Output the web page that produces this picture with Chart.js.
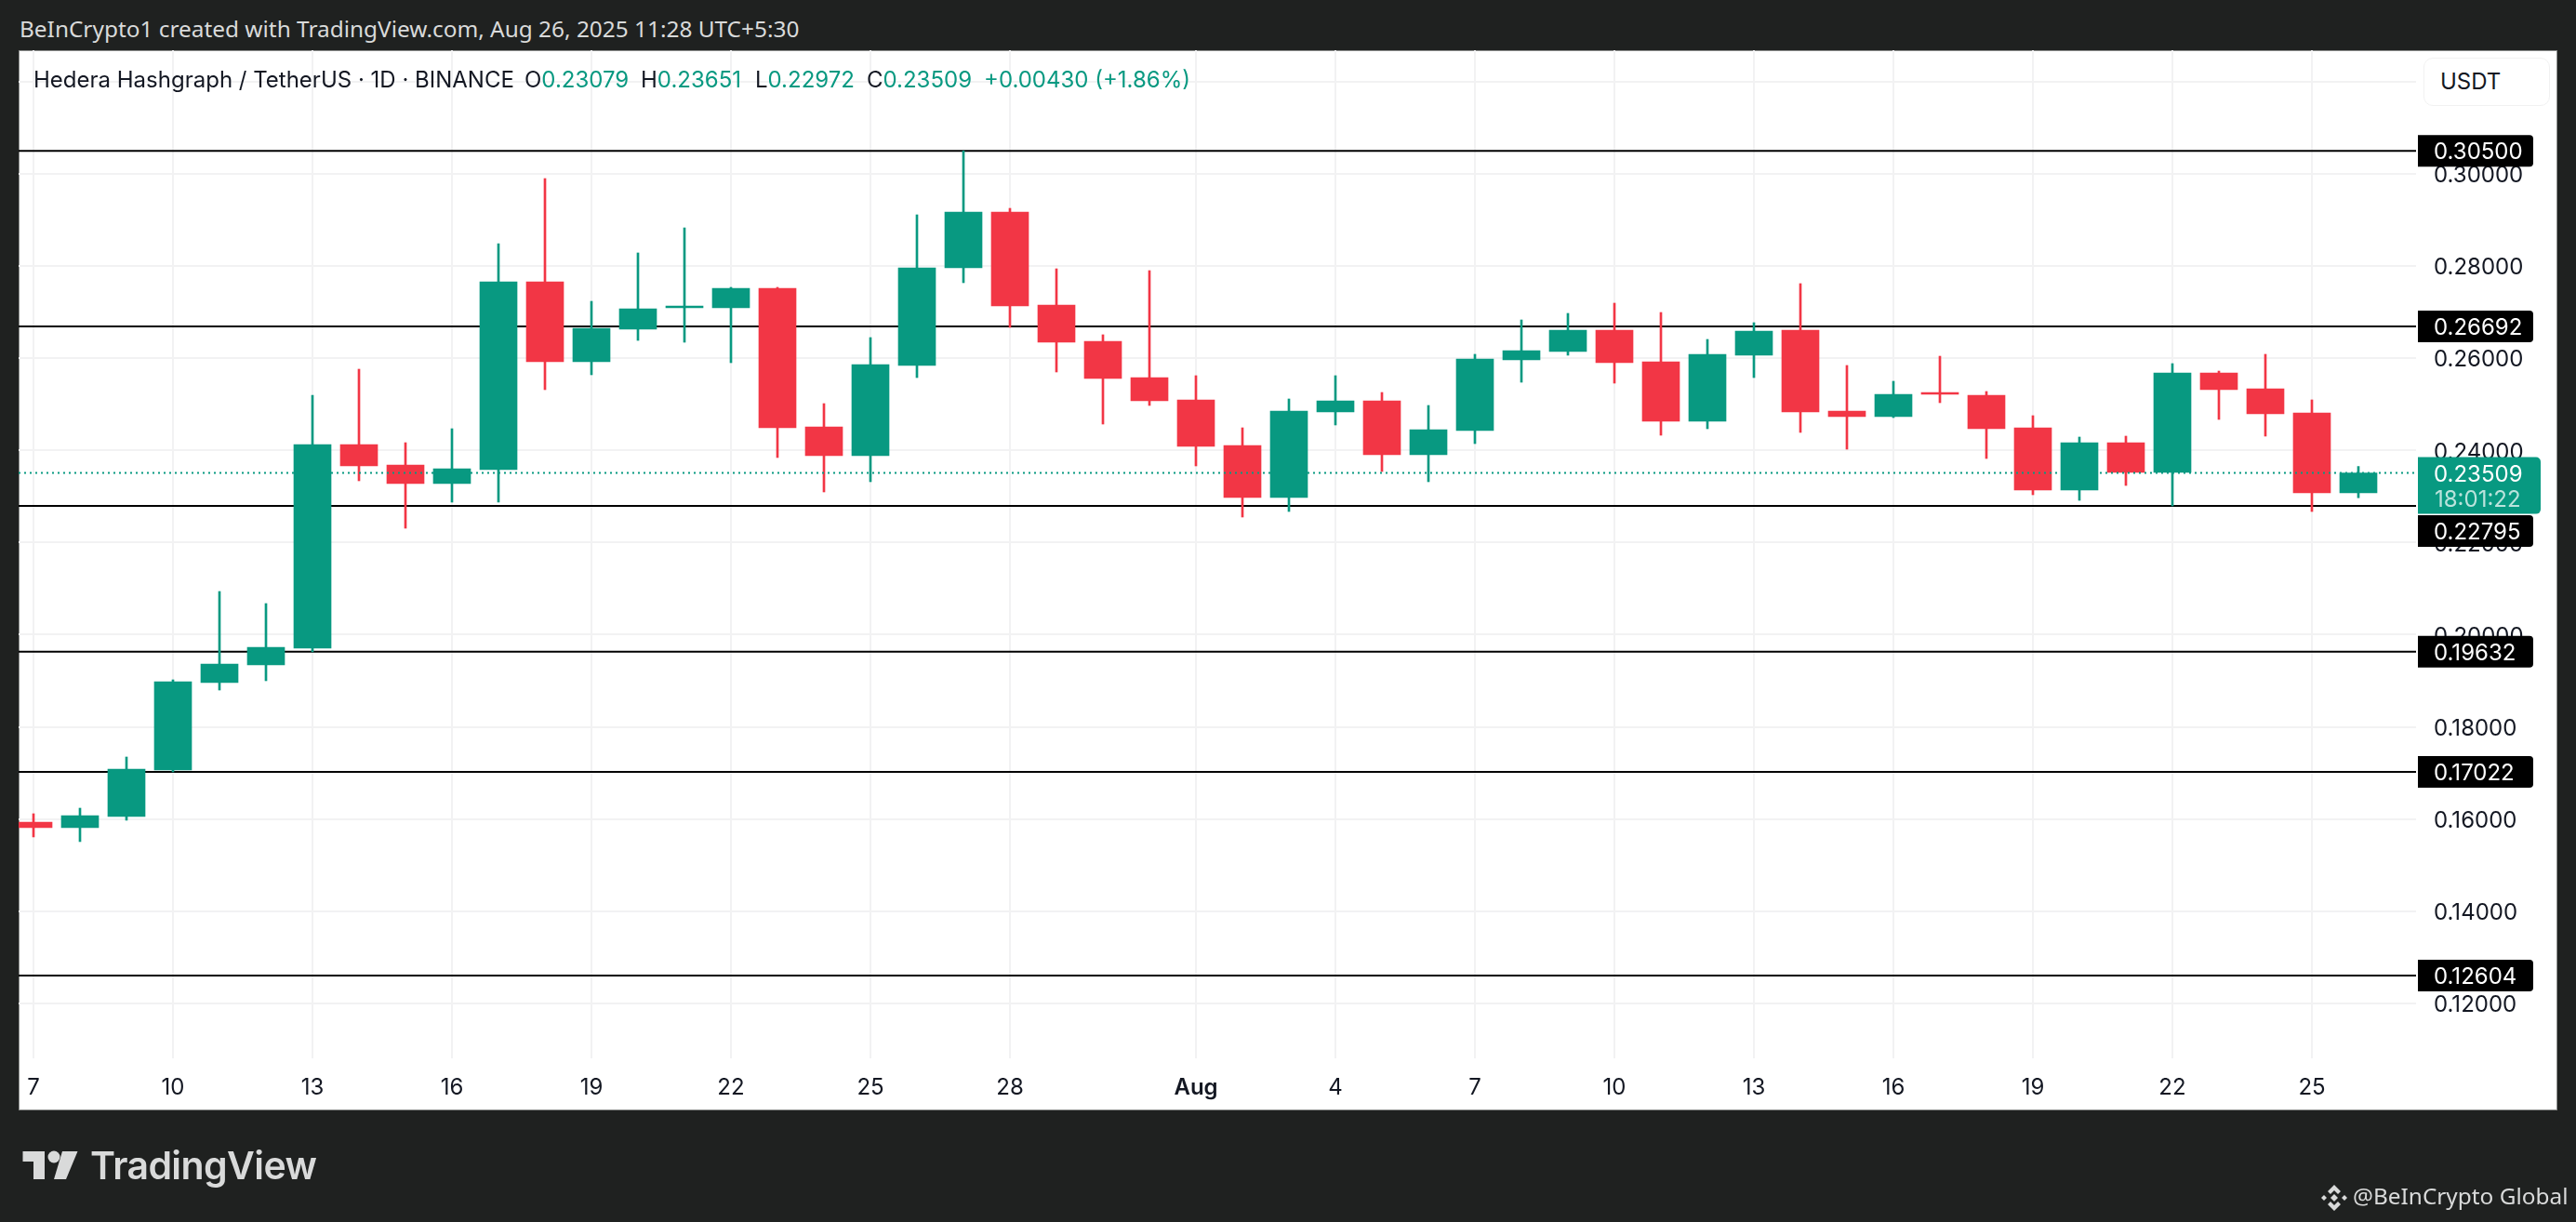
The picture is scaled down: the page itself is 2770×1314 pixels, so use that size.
<!DOCTYPE html>
<html><head><meta charset="utf-8">
<script src="https://cdn.jsdelivr.net/npm/chart.js@4"></script>
<style>
html,body{margin:0;padding:0;background:#1f2120;width:2770px;height:1314px;overflow:hidden}
#panel{position:absolute;left:20px;top:54px;width:2728px;height:1138px;background:#fff;border:1px solid #8a8c8b}
canvas{position:absolute;left:0;top:0}
.t{position:absolute;white-space:pre;font-family:Inter,sans-serif;line-height:1}
.h{color:#d9dada;font-size:24.4px;font-family:"Noto Sans",sans-serif}
.l{font-size:24px;color:#131722;top:74px}
.g{color:#089981}
#usdt{position:absolute;left:2606px;top:62px;width:134px;height:50px;border:1px solid #f1f1f1;border-radius:10px;background:#fff}
</style></head><body>
<div id="panel"></div>
<div class="t h" style="left:21px;top:19px">BeInCrypto1 created with TradingView.com, Aug 26, 2025 11:28 UTC+5:30</div>
<canvas id="c" width="2770" height="1314"></canvas>
<div class="t l" style="left:36px">Hedera Hashgraph / TetherUS · 1D · BINANCE</div>
<div class="t l" style="left:564px">O<span class="g">0.23079</span></div>
<div class="t l" style="left:689px">H<span class="g">0.23651</span></div>
<div class="t l" style="left:812px">L<span class="g">0.22972</span></div>
<div class="t l" style="left:932px">C<span class="g">0.23509</span></div>
<div class="t l g" style="left:1058px">+0.00430 (+1.86%)</div>
<div id="usdt"></div>
<div class="t" style="left:2624px;top:76px;font-size:24px;color:#131722">USDT</div>
<svg style="position:absolute;left:0;top:1220px" width="100" height="60" fill="#d9dada">
<polygon points="24.5,18 48,18 48,48 36,48 36,29 24.5,29"/><circle cx="58" cy="24" r="6.5"/><polygon points="67,18 83.5,18 71,48 58,48"/>
</svg>
<div class="t" style="left:97px;top:1233px;font-size:41px;font-weight:600;color:#d9dada;letter-spacing:-.6px">TradingView</div>
<svg style="position:absolute;left:2494px;top:1272px" width="32" height="32" fill="#d9dada">
<polygon points="16,2 23,9 20,12 16,8 12,12 9,9"/><polygon points="16,30 23,23 20,20 16,24 12,20 9,23"/>
<polygon points="5,13 8,16 5,19 2,16"/><polygon points="27,13 30,16 27,19 24,16"/><polygon points="16,12 20,16 16,20 12,16"/>
</svg>
<div class="t h" style="left:2530px;top:1274px;font-size:24.4px">@BeInCrypto Global</div>
<script>
const days = ['Jul 7','Jul 8','Jul 9','Jul 10','Jul 11','Jul 12','Jul 13','Jul 14','Jul 15','Jul 16','Jul 17','Jul 18','Jul 19','Jul 20','Jul 21','Jul 22','Jul 23','Jul 24','Jul 25','Jul 26','Jul 27','Jul 28','Jul 29','Jul 30','Jul 31','Aug 1','Aug 2','Aug 3','Aug 4','Aug 5','Aug 6','Aug 7','Aug 8','Aug 9','Aug 10','Aug 11','Aug 12','Aug 13','Aug 14','Aug 15','Aug 16','Aug 17','Aug 18','Aug 19','Aug 20','Aug 21','Aug 22','Aug 23','Aug 24','Aug 25','Aug 26'];
const opens = [.15933,.15812,.16054,.17064,.18961,.19344,.19707,.24127,.23683,.2328,.23582,.27659,.25923,.2663,.27094,.27094,.27518,.24511,.23885,.25843,.27962,.29173,.27154,.26367,.2558,.25096,.24107,.22977,.24834,.25076,.23905,.2443,.25964,.26145,.2661,.25923,.24632,.26065,.2661,.24854,.24733,.25257,.25197,.2449,.23138,.24167,.23522,.25681,.25338,.24813,.23079];
const highs = [.16115,.16236,.17346,.19021,.20938,.20676,.25197,.25762,.24167,.2447,.28486,.29899,.27235,.28285,.28829,.27538,.27538,.25015,.26448,.29112,.305,.29253,.27941,.26509,.27901,.25621,.2449,.25116,.25621,.25257,.24975,.26085,.26831,.26973,.27195,.26993,.26408,.26771,.27619,.25843,.255,.26044,.25278,.24753,.24289,.24309,.25883,.25721,.26085,.25096,.23651];
const lows = [.15611,.1551,.15974,.17023,.18799,.19001,.19627,.2334,.22311,.22876,.22876,.25318,.25641,.26387,.26347,.25903,.23845,.23098,.2332,.2558,.27639,.2667,.25701,.24571,.24975,.23663,.22553,.22674,.24551,.23542,.2332,.24147,.25479,.26065,.25459,.24329,.2447,.2558,.2439,.24026,.24712,.25035,.23824,.23037,.22916,.23239,.22795,.24672,.24309,.22674,.22972];
const closes = [.15812,.16075,.17084,.18981,.19364,.19728,.24127,.23663,.2328,.23602,.27659,.25923,.2665,.27074,.27134,.27518,.2449,.23885,.25863,.27962,.29173,.27134,.26347,.2556,.25076,.24087,.22977,.24854,.25076,.23905,.2445,.25984,.26165,.2661,.25903,.24632,.26085,.26589,.24834,.24733,.25217,.25217,.2447,.23138,.24167,.23522,.25681,.25318,.24793,.23079,.23509];
const levels = [.305,.26692,.22795,.19632,.17022,.12604];
const levelLabels = ['0.30500','0.26692','0.22795','0.19632','0.17022','0.12604'];
const lastPrice = .23509;
const lastPriceLabel = '0.23509';
const countdown = '18:01:22';
const priceTicks = [.12,.14,.16,.18,.2,.22,.24,.26,.28,.3,.32];
const priceTickLabels = ['0.12000','0.14000','0.16000','0.18000','0.20000','0.22000','0.24000','0.26000','0.28000','0.30000',''];
const timeTicks = [0,3,6,9,12,15,18,21,25,28,31,34,37,40,43,46,49];
const timeTickLabels = ['7','10','13','16','19','22','25','28','Aug','4','7','10','13','16','19','22','25'];

const GREEN='#089981', RED='#F23645';
const xMin=-0.32, xMax=51.24, yMin=.10807, yMax=.32684;
const up = opens.map((o,i)=>closes[i]>=o);
const candleColors = up.map(u=>u?GREEN:RED);

const levelSets = levels.map(v=>({type:'line',data:[{x:xMin,y:v},{x:xMax,y:v}],borderColor:'#000',borderWidth:2,pointRadius:0,order:5}));
const labelPlugin = {
  id:'priceLabels',
  afterDraw(chart){
    const c=chart.ctx, y=chart.scales.y, X=2600;
    c.save();
    c.textBaseline='middle';c.textAlign='left';
    const py=y.getPixelForValue(lastPrice);
    c.fillStyle=GREEN;c.beginPath();c.roundRect(X,py-17,132,61,[0,5,5,0]);c.fill();
    c.font='24px Inter';c.fillStyle='#fff';c.fillText(lastPriceLabel,2617,py+2);
    c.fillStyle='rgba(255,255,255,.72)';c.fillText(countdown,2618,py+29);
    levels.forEach((v,i)=>{
      const p=y.getPixelForValue(v)+(v===.22795?27:0);
      c.fillStyle='#000';c.beginPath();c.roundRect(X,p-17,124,34,[0,4,4,0]);c.fill();
      c.fillStyle='#fff';c.fillText(levelLabels[i],2617,p+2);
    });
    c.restore();
  }
};
new Chart(document.getElementById('c'),{
  type:'bar',
  data:{datasets:[
    {type:'line',data:[{x:xMin,y:lastPrice},{x:xMax,y:lastPrice}],borderColor:GREEN,borderWidth:2,borderDash:[2,4],pointRadius:0,order:0},
    {label:'body',data:days.map((d,i)=>({x:i,y:[opens[i],closes[i]]})),backgroundColor:candleColors,barThickness:40,grouped:false,borderWidth:0,order:1},
    {label:'wick',data:days.map((d,i)=>({x:i,y:[lows[i],highs[i]]})),backgroundColor:candleColors,barThickness:2,grouped:false,borderWidth:0,order:2},
    ...levelSets
  ]},
  options:{
    responsive:false,animation:false,devicePixelRatio:1,
    layout:{padding:{left:20,top:54,right:20,bottom:120}},
    plugins:{legend:{display:false},tooltip:{enabled:false},title:{display:false}},
    scales:{
      x:{type:'linear',min:xMin,max:xMax,offset:false,position:'bottom',
        border:{display:false},
        grid:{color:'#f2f2f3',lineWidth:2,drawTicks:false,offset:false},
        afterBuildTicks(a){a.ticks=timeTicks.map(v=>({value:v}));},
        afterFit(a){a.height=56;},
        ticks:{autoSkip:false,maxRotation:0,minRotation:0,padding:17,color:'#131722',
          font:ctx=>({family:'Inter',size:24,weight:ctx.tick&&timeTickLabels[timeTicks.indexOf(ctx.tick.value)]==='Aug'?'600':'400'}),
          callback:v=>timeTickLabels[timeTicks.indexOf(v)]}
      },
      y:{type:'linear',min:yMin,max:yMax,position:'right',
        border:{display:false},
        grid:{color:'#f2f2f3',lineWidth:2,drawTicks:false},
        afterBuildTicks(a){a.ticks=priceTicks.map(v=>({value:v}));},
        afterFit(a){a.width=152;},
        ticks:{autoSkip:false,padding:19,labelOffset:2,color:'#131722',font:{family:'Inter',size:24},
          callback:v=>priceTickLabels[priceTicks.indexOf(v)]}
      }
    }
  },
  plugins:[labelPlugin]
});
</script>
</body></html>
